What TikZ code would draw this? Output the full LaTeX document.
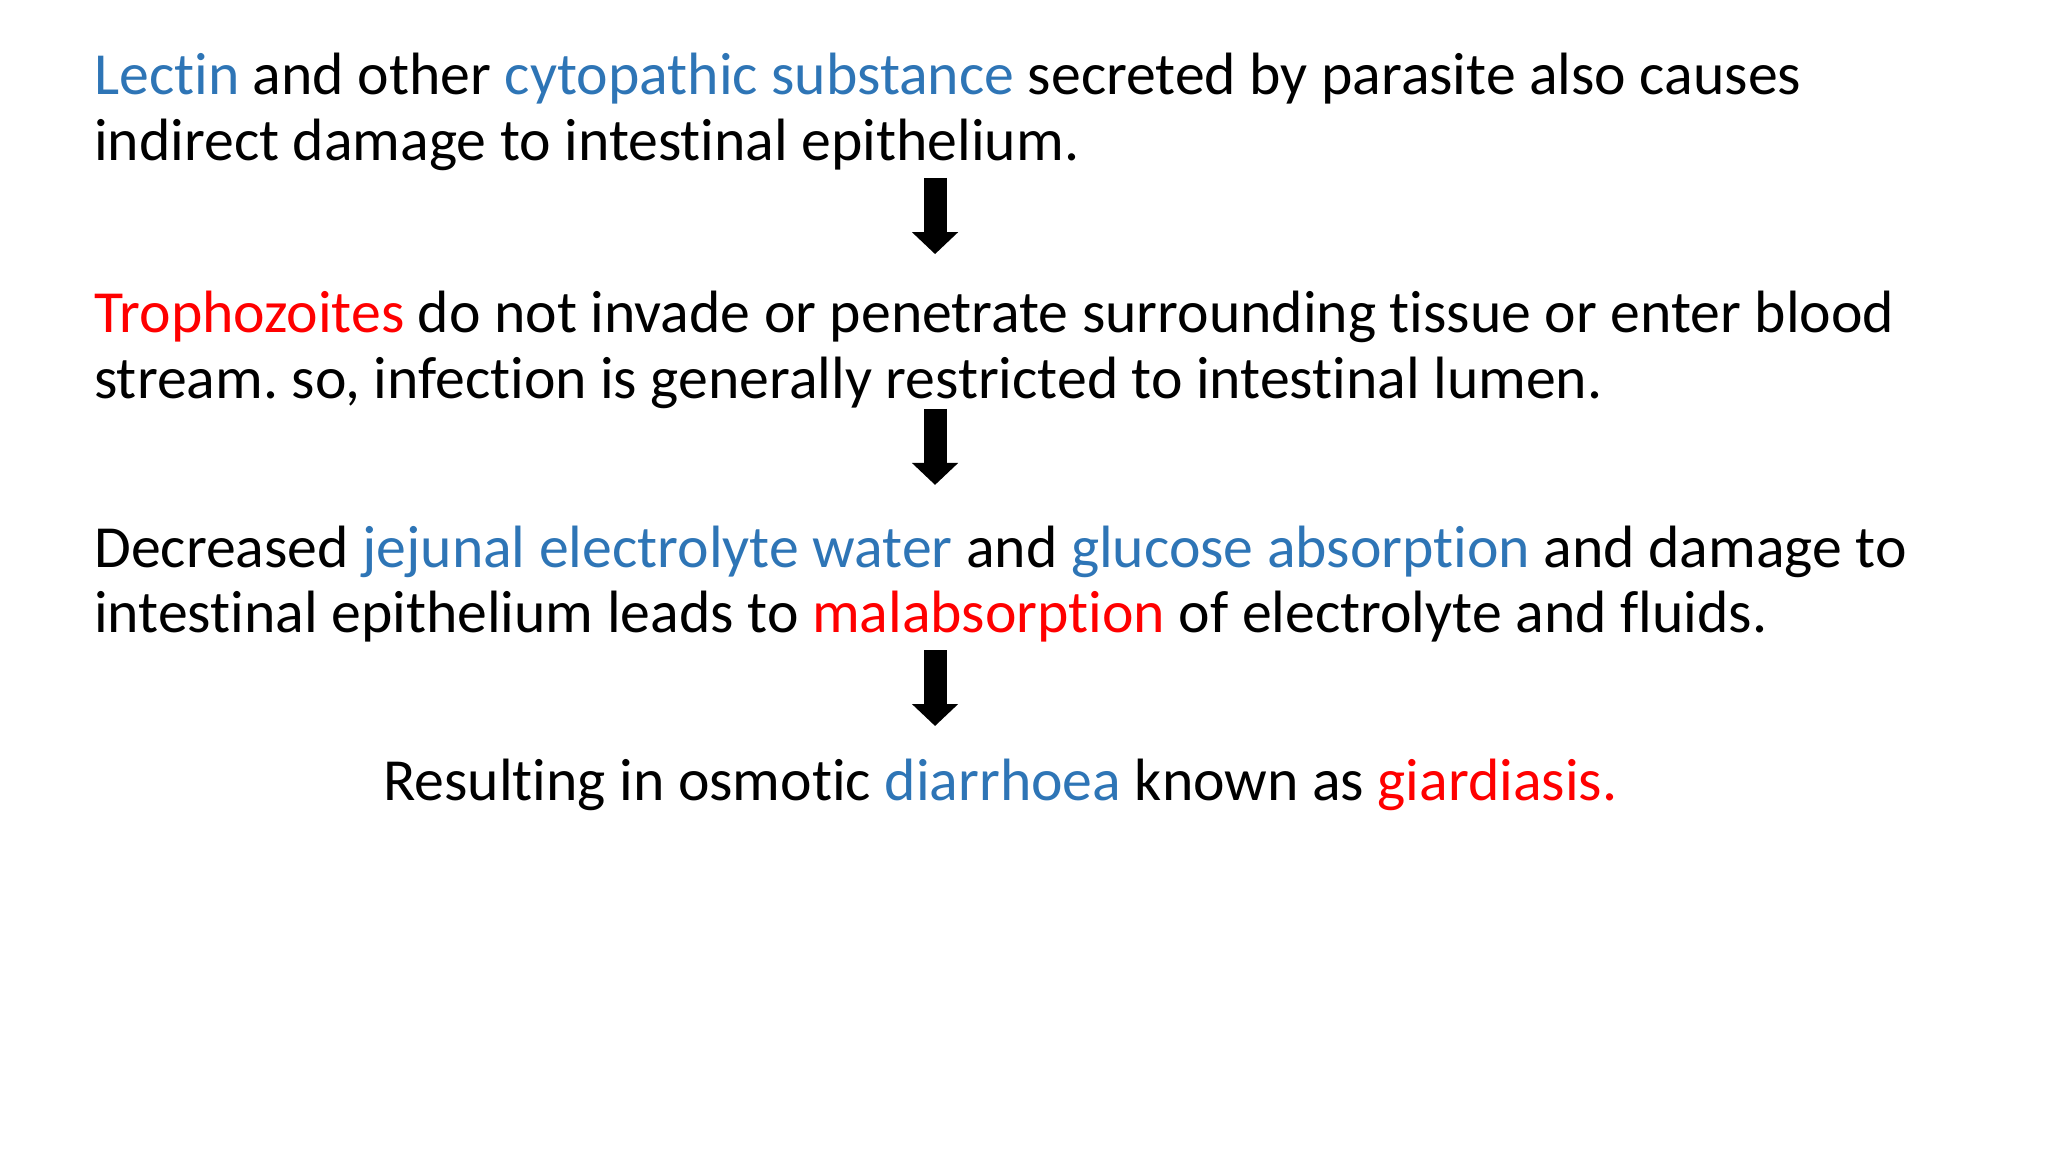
\documentclass[tikz,border=0pt]{standalone}
\usepackage{fontspec}
\setmainfont{Carlito}[Ligatures={NoCommon}]
\frenchspacing
\usetikzlibrary{arrows.meta}
\definecolor{tblue}{HTML}{2E75B6}
\definecolor{tred}{HTML}{FF0000}
\begin{document}
\begin{tikzpicture}[x=1pt,y=-1pt,
  txt/.style={anchor=base west,inner sep=0pt,font=\fontsize{28}{30.7}\selectfont},
  bigarrow/.style={line width=10.8pt,-{Triangle[width=21.1pt,length=10.3pt]}},
]
\useasboundingbox (0,0) rectangle (960,540);
\node[txt] (l1a) at (44,44.4) {\textcolor{tblue}{Lectin} and other \textcolor{tblue}{cytopathic substance} secreted by parasite also causes};
\node[txt] (l1b) at (44,75.1) {indirect damage to intestinal epithelium.};
\node[txt] (l2a) at (44,155.7) {\textcolor{tred}{Trophozoites} do not invade or penetrate surrounding tissue or enter blood};
\node[txt] (l2b) at (44,186.6) {stream. so, infection is generally restricted to intestinal lumen.};
\node[txt] (l3a) at (44,265.8) {Decreased \textcolor{tblue}{jejunal electrolyte water} and \textcolor{tblue}{glucose absorption} and damage to};
\node[txt] (l3b) at (44,296.3) {intestinal epithelium leads to \textcolor{tred}{malabsorption} of electrolyte and fluids.};
\node[txt] (l4) at (179.5,375.3) {Resulting in osmotic \textcolor{tblue}{diarrhoea} known as \textcolor{tred}{giardiasis.}};
\coordinate (a1s) at (438.3,83.4);
\coordinate (a1e) at (438.3,119.1);
\coordinate (a2s) at (438.3,191.7);
\coordinate (a2e) at (438.3,227.3);
\coordinate (a3s) at (438.3,304.7);
\coordinate (a3e) at (438.3,340.3);
\draw[bigarrow] (a1s) -- (a1e);
\draw[bigarrow] (a2s) -- (a2e);
\draw[bigarrow] (a3s) -- (a3e);
\end{tikzpicture}
\end{document}
